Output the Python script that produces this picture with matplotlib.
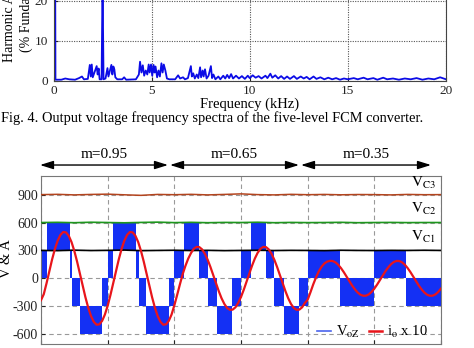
import numpy as np
import matplotlib
matplotlib.use("Agg")
import matplotlib.pyplot as plt
from matplotlib.lines import Line2D

plt.rcParams['font.family'] = ['Liberation Serif', 'DejaVu Serif']
plt.rcParams['mathtext.fontset'] = 'stix'
plt.rcParams['axes.unicode_minus'] = False

# ---------------- data: harmonic spectrum (top, Fig. 4) ----------------
spec_freq = [0.0, 0.05, 0.1, 0.4, 0.6, 0.8, 1.1, 1.3, 1.45, 1.55, 1.75, 1.85, 1.9, 1.95, 2.0,
             2.1, 2.2, 2.25, 2.3, 2.35, 2.45, 2.5, 2.55, 2.65, 2.75, 2.8, 2.85, 2.95, 3.0,
             3.05, 3.1, 3.15, 3.25, 3.5, 3.6, 3.7, 4.2, 4.35, 4.41, 4.48, 4.55, 4.62, 4.7,
             4.78, 4.85, 4.9, 4.97, 5.03, 5.1, 5.15, 5.2, 5.28, 5.35, 5.42, 5.5, 5.56, 5.62,
             5.7, 5.78, 5.9, 6.2, 6.35, 6.45, 6.6, 6.7, 6.85, 7.0, 7.05, 7.12, 7.2, 7.3, 7.38,
             7.47, 7.52, 7.6, 7.65, 7.72, 7.8, 7.9, 8.02, 8.08, 8.15, 8.25, 8.4, 8.5, 8.65,
             8.75, 8.85, 8.95, 9.05, 9.15, 9.3, 9.45, 9.6, 9.75, 9.9, 10.0, 10.15, 10.3,
             10.45, 10.6, 10.8, 10.9, 11.05, 11.15, 11.3, 11.45, 11.6, 11.75, 11.9, 12.05,
             12.25, 12.4, 12.6, 12.75, 12.9, 13.05, 13.25, 13.4, 13.6, 13.8, 14.0, 14.2,
             14.4, 14.6, 14.8, 15.0, 15.3, 15.5, 15.8, 16.0, 16.3, 16.5, 16.8, 17.0, 17.3,
             17.6, 17.9, 18.2, 18.5, 18.8, 19.1, 19.4, 19.7, 20.0]
spec_amp = [0, 100, 0.2, 0.2, 0.5, 0.3, 0.2, 0.6, 1.0, 0.3, 0.4, 3.9, 1.0, 4.0, 0.8,
            2.2, 3.6, 1.5, 3.0, 0.3, 0.3, 25, 0.3, 0.5, 3.1, 1.0, 2.0, 3.9, 1.5,
            3.5, 2.8, 0.8, 0.3, 0.3, 0.8, 0.2, 0.3, 1.5, 4.7, 2.0, 3.8, 1.2, 2.5,
            1.5, 4.0, 2.0, 4.0, 1.2, 3.9, 2.0, 3.5, 0.8, 2.5, 1.0, 4.3, 2.0, 4.0,
            2.5, 0.5, 0.3, 0.3, 1.3, 0.5, 0.8, 0.3, 0.6, 3.6, 1.0, 1.8, 0.5, 1.5, 0.6,
            3.3, 0.8, 2.5, 1.0, 2.8, 0.5, 1.2, 3.6, 0.6, 1.5, 0.3, 1.0, 0.3, 1.2,
            0.5, 1.4, 0.6, 1.6, 0.5, 1.2, 0.5, 1.1, 0.4, 1.2, 0.6, 1.3, 0.7,
            1.1, 0.5, 1.2, 0.6, 1.7, 0.7, 1.3, 0.5, 1.1, 0.4, 1.0, 0.4,
            1.1, 0.4, 1.0, 0.5, 0.9, 0.3, 1.0, 0.4, 0.8, 0.3, 0.7, 0.3,
            0.6, 0.2, 0.5, 0.3, 0.6, 0.3, 0.7, 0.3, 0.6, 0.2, 0.7, 0.3, 0.5,
            0.2, 0.5, 0.3, 0.6, 0.2, 0.5, 0.3, 0.8, 0.3]
spec_xticks = [0, 5, 10, 15, 20]
spec_yticks = [0, 10, 20, 30]

# ---------------- data: waveforms (bottom) ----------------
mod_labels = ["m=0.95", "m=0.65", "m=0.35"]
# one period of the multilevel output voltage: switching bands per period
blue_bounds = [[0, 0.085, 0.43, 0.47, 0.58, 0.92, 1.0],
               [0, 0.145, 0.37, 0.50, 0.64, 0.87, 1.0],
               [0, 0.48, 1.0]]
blue_lo = [[0, 300, 0, -300, -600, -300],
           [0, 300, 0, -300, -600, -300],
           [0, -300]]
blue_hi = [[300, 600, 300, 0, -300, 0],
           [300, 600, 300, 0, -300, 0],
           [300, 0]]

# load current x10, sampled every 1/24 period
io_x10 = [-235, -170, -52, 78, 204, 315, 405, 467, 498, 494, 457, 389, 294, 179, 52, -78, -204, -315, -405, -467, -498, -494, -457, -389,
          -294, -179, -52, 78, 204, 315, 405, 467, 498, 494, 457, 389, 294, 179, 52, -78, -204, -315, -405, -467, -498, -494, -457, -389,
          -290, -180, -65, 45, 135, 212, 272, 318, 338, 336, 311, 264, 200, 122, 36, -53, -138, -214, -275, -318, -338, -336, -311, -264,
          -200, -122, -36, 53, 138, 214, 275, 318, 338, 336, 311, 264, 200, 122, 36, -53, -138, -214, -275, -318, -338, -336, -311, -264,
          -230, -150, -65, 10, 75, 125, 160, 180, 188, 186, 172, 146, 110, 67, 20, -29, -77, -118, -152, -176, -187, -186, -172, -146,
          -110, -67, -20, 29, 77, 118, 152, 176, 187, 186, 172, 146, 110, 67, 20, -29, -77, -118, -152, -176, -187, -186, -172, -146,
          -110]

# flying-capacitor voltages, sampled every 1/4 period
vc3 = [900, 903, 897, 902, 905, 898, 892, 902, 899, 903, 897, 902, 908, 900, 897, 903, 899, 902, 898, 901, 900, 897, 902, 899, 900]
vc2 = [600, 602, 598, 603, 600, 597, 601, 604, 599, 602, 598, 601, 600, 603, 598, 601, 599, 600, 602, 598, 600, 601, 599, 600, 600]
vc1 = [300, 298, 303, 299, 301, 304, 298, 300, 302, 299, 301, 298, 300, 302, 299, 301, 300, 298, 302, 300, 299, 301, 300, 302, 300]
yticks2 = [-600, -300, 0, 300, 600, 900]

W, H = 474, 348
fig = plt.figure(figsize=(W / 100, H / 100), dpi=100)

# ================= top: spectrum (cropped) =================
ax1 = fig.add_axes([53.5 / W, (H - 80.5) / H, (446 - 53.5) / W, 120 / H])
ax1.plot(spec_freq, spec_amp, color='#0c0ce6', lw=1.3)
ax1.set_xlim(0, 20)
ax1.set_ylim(0, 30)
ax1.set_xticks(spec_xticks)
ax1.set_yticks(spec_yticks)
ax1.tick_params(direction='in', length=3, labelsize=9.5, colors='#222')
ax1.tick_params(axis='x', pad=3)
ax1.tick_params(axis='y', pad=4)
ax1.grid(True, ls=(0, (1, 1.2)), color='#555', lw=0.8)
for s in ax1.spines.values():
    s.set_color('#444')
    s.set_linewidth(0.8)
fig.text((53.5 + 446) / 2 / W, 1 - 104.5 / H, 'Frequency (kHz)', fontsize=10.5,
         ha='center', va='center')
fig.text(18 / W, 1 - 62 / H, 'Harmonic Amplitude\n(% Fundamental)', rotation=90,
         ha='center', va='bottom', multialignment='center', fontsize=10, linespacing=1.4)
fig.text(1 / W, 1 - 118.5 / H,
         'Fig. 4. Output voltage frequency spectra of the five-level FCM converter.',
         fontsize=10.4, ha='left', va='center')

# ================= bottom: waveforms =================
ax2 = fig.add_axes([41 / W, (H - 343.5) / H, 400 / W, 167.5 / H])
ax2.set_xlim(0, 6)
ax2.set_ylim(-700, 1100)
ax2.set_xticks([0, 1, 2, 3, 4, 5, 6])
ax2.set_yticks(yticks2)
ax2.set_yticklabels([str(v) for v in yticks2])
ax2.tick_params(direction='in', length=3, labelsize=10, pad=2, labelbottom=False, colors='#222')
ax2.grid(True, ls=(0, (4, 3)), color='#999', lw=0.8)
ax2.set_axisbelow(True)
for s in ax2.spines.values():
    s.set_color('#777')
    s.set_linewidth(0.8)

blue = '#1430f4'
for r in range(3):
    for c in range(2):
        t0 = 2 * r + c
        b = blue_bounds[r]
        for i in range(len(b) - 1):
            ax2.fill_between([t0 + b[i], t0 + b[i + 1]], blue_lo[r][i], blue_hi[r][i],
                             color=blue, lw=0, zorder=2)

t_vc = np.arange(len(vc3)) * 0.25
ax2.plot(t_vc, vc3, color='#b3441e', lw=1.1, zorder=3)
ax2.plot(t_vc, vc2, color='#1e961e', lw=1.2, zorder=3)
ax2.plot(t_vc, vc1, color='black', lw=1.2, zorder=3)
t_io = np.arange(len(io_x10)) / 24.0
ax2.plot(t_io, io_x10, color='#e8151b', lw=1.6, zorder=4)

ax2.text(5.55, 1030, r'$\mathrm{V}_{\mathrm{C3}}$', fontsize=11, ha='left', va='center')
ax2.text(5.55, 745, r'$\mathrm{V}_{\mathrm{C2}}$', fontsize=11, ha='left', va='center')
ax2.text(5.55, 440, r'$\mathrm{V}_{\mathrm{C1}}$', fontsize=11, ha='left', va='center')

fig.text(7 / W, 1 - 259 / H, 'V & A', rotation=90, ha='center', va='center', fontsize=10.5)

# modulation index arrows
arrow_x = [(-0.015, 1.905), (1.935, 3.87), (3.9, 5.85)]
for lab, (xa, xb) in zip(mod_labels, arrow_x):
    ax2.annotate('', xy=(xb, 1218), xytext=(xa, 1218), xycoords='data',
                 arrowprops=dict(arrowstyle='<|-|>,head_length=0.8,head_width=0.25',
                                 color='black', lw=1.0, shrinkA=0, shrinkB=0),
                 annotation_clip=False)
    ax2.text((xa + xb) / 2, 1330, lab, fontsize=11, ha='center', va='center', clip_on=False)

handles = [Line2D([], [], color='#4a64ee', lw=1.2), Line2D([], [], color='#e8151b', lw=1.8)]
ax2.legend(handles, [r'V$_{\mathrm{oZ}}$', r'i$_{\mathrm{o}}$ x 10'], ncol=2, frameon=False,
           loc='lower right', bbox_to_anchor=(0.968, 0.02), fontsize=10.5,
           handlelength=0.95, handletextpad=0.35, columnspacing=0.6, borderpad=0, borderaxespad=0)

fig.savefig('out.png', dpi=100)
